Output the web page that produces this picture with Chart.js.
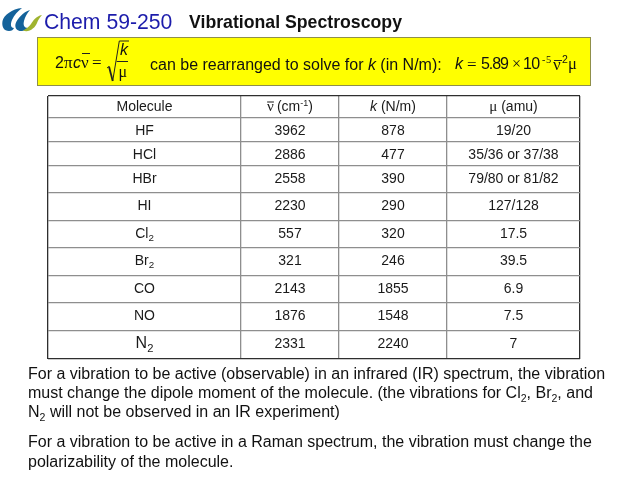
<!DOCTYPE html>
<html>
<head>
<meta charset="utf-8">
<style>
html,body{margin:0;padding:0;background:#fff;width:638px;height:478px;overflow:hidden}
#wrap{position:relative;width:638px;height:478px}
#wrap canvas{position:absolute;left:0;top:0}
.t{position:absolute;white-space:nowrap;line-height:1;font-family:"Liberation Sans",Arial,sans-serif;color:#111}
.s{font-family:"Liberation Serif","Times New Roman",serif}
sub,sup{font-size:.66em;line-height:0}
#box{position:absolute;left:37px;top:37px;width:552px;height:47px;background:#ffff00;border:1.5px solid #8f8f4a;box-sizing:content-box}
</style>
</head>
<body>
<div id="wrap">
<div id="box"></div>
<svg style="position:absolute;left:0;top:0" width="60" height="40" viewBox="0 0 60 40">
<path d="M22 8C12 9 4 15 2.500 21C1.500 27 4 31 9 31C12 31 13 30 14 28C11 28 10 25 12 20C14 15 18 11 22 8Z" fill="#14629a"/>
<path d="M30 10C23 12 17 19 15.500 24C14.500 29 18 31.500 22 31C25 30.500 27 29 28 28C24 28 23 25 24 21C25 17 27 13 30 10Z" fill="#14629a"/>
<path d="M42 15C36 16 33 21 31 24C29 27 26 29 23 30.500C29 33 35 28 37 23C38 20 40 17 42 15Z" fill="#9fb32f"/>
</svg>
<canvas id="c" width="638" height="478"></canvas>
</div>
<script src="https://cdn.jsdelivr.net/npm/chart.js@4/dist/chart.umd.min.js"></script>
<script>
const molecules = ['HF','HCl','HBr','HI','Cl2','Br2','CO','NO','N2'];
const wavenumbers = [3962,2886,2558,2230,557,321,2143,1876,2331];
const forceConstants = [878,477,390,290,320,246,1855,1548,2240];
const reducedMasses = ['19/20','35/36 or 37/38','79/80 or 81/82','127/128','17.5','39.5','6.9','7.5','7'];
const columnEdges = [48,241,339,447,580];
const rowEdges = [96,118,142,166,193,221,248,276,303,331,359];
const columns = [molecules, wavenumbers, forceConstants, reducedMasses];

const SANS = '"Liberation Sans", Arial, sans-serif';
const SERIF = '"Liberation Serif", "Times New Roman", serif';
const TEXT = '#1a1a1a';
const TEXT_SIZE = 14;
const ROW_TEXT_OFFSET = 12.8;

function runs(ctx, parts, cx, cy){
  let w = 0;
  parts.forEach(p => { ctx.font = (p.style||'')+' '+p.size+'px '+(p.font||SANS); p.w = ctx.measureText(p.t).width + (p.gap||0); w += p.w; });
  let x = cx - w/2;
  ctx.textAlign='left'; ctx.textBaseline='middle'; ctx.fillStyle=TEXT;
  parts.forEach(p => {
    ctx.font = (p.style||'')+' '+p.size+'px '+(p.font||SANS);
    ctx.fillText(p.t, x, cy+(p.dy||0));
    if(p.bar){ ctx.fillRect(x, cy-5.5, p.w-(p.gap||0), 1); }
    x += p.w;
  });
}
function moleculeParts(name, size){
  const m = /^(.*?)(\d)$/.exec(name);
  return m ? [{t:m[1],size:size},{t:m[2],size:size*0.7,dy:size*0.3}] : [{t:name,size:size}];
}
const tablePlugin = {
  id:'tableText',
  afterDatasetsDraw(chart){
    const ctx = chart.ctx;
    ctx.save();
    const xs = chart.scales.x, ys = chart.scales.y;
    const hy = ys.getPixelForValue(rowEdges[0]) + 11;
    const cc = i => xs.getPixelForValue((columnEdges[i]+columnEdges[i+1])/2);
    runs(ctx,[{t:'Molecule',size:TEXT_SIZE}],cc(0),hy);
    runs(ctx,[{t:'ν',size:15,font:SERIF,bar:true,gap:3},{t:'(cm',size:TEXT_SIZE},{t:'-1',size:9,dy:-3},{t:')',size:TEXT_SIZE}],cc(1),hy);
    runs(ctx,[{t:'k',size:TEXT_SIZE,style:'italic'},{t:' (N/m)',size:TEXT_SIZE}],cc(2),hy);
    runs(ctx,[{t:'μ',size:15,font:SERIF},{t:' (amu)',size:TEXT_SIZE}],cc(3),hy);
    chart.data.datasets.forEach((ds,c) => {
      chart.getDatasetMeta(c).data.forEach((pt,i) => {
        const v = columns[c][i];
        if(c===0){
          const size = v==='N2' ? 16 : TEXT_SIZE;
          runs(ctx,moleculeParts(v,size),pt.x,pt.y);
        } else {
          runs(ctx,[{t:String(v),size:TEXT_SIZE}],pt.x,pt.y);
        }
      });
    });
    ctx.restore();
  }
};
const inner = '#8e8e8e', outer = '#2e2e2e';
new Chart(document.getElementById('c'),{
  type:'scatter',
  plugins:[tablePlugin],
  data:{datasets: columns.map((col,c)=>({
    label:['Molecule','Wavenumber (cm-1)','k (N/m)','mu (amu)'][c],
    pointRadius:0, pointHoverRadius:0,
    data: col.map((_,i)=>({x:(columnEdges[c]+columnEdges[c+1])/2, y:rowEdges[i+1]+ROW_TEXT_OFFSET}))
  }))},
  options:{
    responsive:false, animation:false,
    devicePixelRatio:1,
    layout:{padding:{left:48,right:58,top:96,bottom:119}},
    plugins:{legend:{display:false},title:{display:false},tooltip:{enabled:false}},
    events:[],
    scales:{
      x:{type:'linear',min:columnEdges[0],max:columnEdges[4],
        afterBuildTicks(s){s.ticks=columnEdges.map(v=>({value:v}));},
        ticks:{display:false},border:{display:false},
        grid:{drawTicks:false,lineWidth:1.3,color:c=>(c.index===0||c.index===columnEdges.length-1)?outer:inner}},
      y:{type:'linear',reverse:true,min:rowEdges[0],max:rowEdges[10],
        afterBuildTicks(s){s.ticks=rowEdges.map(v=>({value:v}));},
        ticks:{display:false},border:{display:false},
        grid:{drawTicks:false,lineWidth:1.3,color:c=>(c.index===0||c.index===rowEdges.length-1)?outer:inner}}
    }
  }
});

// slide text outside the table
const wrap = document.getElementById('wrap');
function place(html,x,baseline,size,extra){
  const d=document.createElement('div');
  d.className='t';
  d.innerHTML=html;
  d.style.left=x+'px';
  d.style.top=(baseline-0.8465*size)+'px';
  d.style.fontSize=size+'px';
  if(extra) Object.assign(d.style,extra);
  wrap.appendChild(d);
}
const serif={fontFamily:SERIF};
place('Chem 59-250',44,29,21.2,{color:'#1c1cab'});
place('Vibrational Spectroscopy',189,29,17.7,{fontWeight:'bold'});
place('can be rearranged to solve for <i>k</i> (in N/m):',150,70.5,16);
// left formula
place('2',55,68.5,16);
place('π',64,68.5,17,serif);
place('<i>c</i>',73,68.5,16);
place('ν',81,68.5,17,serif);
place('=',92,68.5,17,serif);
place('<i>k</i>',120,56,16);
place('μ',118.500,78,16,serif);
// right formula
place('<i>k</i>',455,70,16);
place('=',467,70,17,serif);
place('5.89',481,70,16,{letterSpacing:'-1.1px'});
place('×',512,70,16,serif);
place('10',523,70,16,{letterSpacing:'-0.6px'});
place('-',542,63.5,10,serif);
place('5',546,63.5,10.5,serif);
place('ν',553,70,17,serif);
place('2',562,63,10.5);
place('μ',568,70,16.5,serif);
// paragraphs
place('For a vibration to be active (observable) in an infrared (IR) spectrum, the vibration',28,380,16);
place('must change the dipole moment of the molecule. (the vibrations for Cl<sub>2</sub>, Br<sub>2</sub>, and',28,399,16);
place('N<sub>2</sub> will not be observed in an IR experiment)',28,418,16);
place('For a vibration to be active in a Raman spectrum, the vibration must change the',28,448,16);
place('polarizability of the molecule.',28,467.5,16);
// radical sign, fraction bar and wavenumber bars
const ns='http://www.w3.org/2000/svg';
const svg=document.createElementNS(ns,'svg');
svg.setAttribute('width','638');svg.setAttribute('height','100');
svg.style.cssText='position:absolute;left:0;top:0';
svg.innerHTML='<path d="M107 68L109 66.500" fill="none" stroke="#222" stroke-width="1"/><path d="M109 66.500L112.700 81" fill="none" stroke="#222" stroke-width="1.8"/><path d="M112.700 81L119.300 41H129" fill="none" stroke="#222" stroke-width="1"/><path d="M116.700 61.500H128" stroke="#222" stroke-width="1"/><path d="M82 53.500H90" stroke="#222" stroke-width="1"/><path d="M554 60.500H562" stroke="#222" stroke-width="1"/>';
wrap.appendChild(svg);
</script>
</body>
</html>
